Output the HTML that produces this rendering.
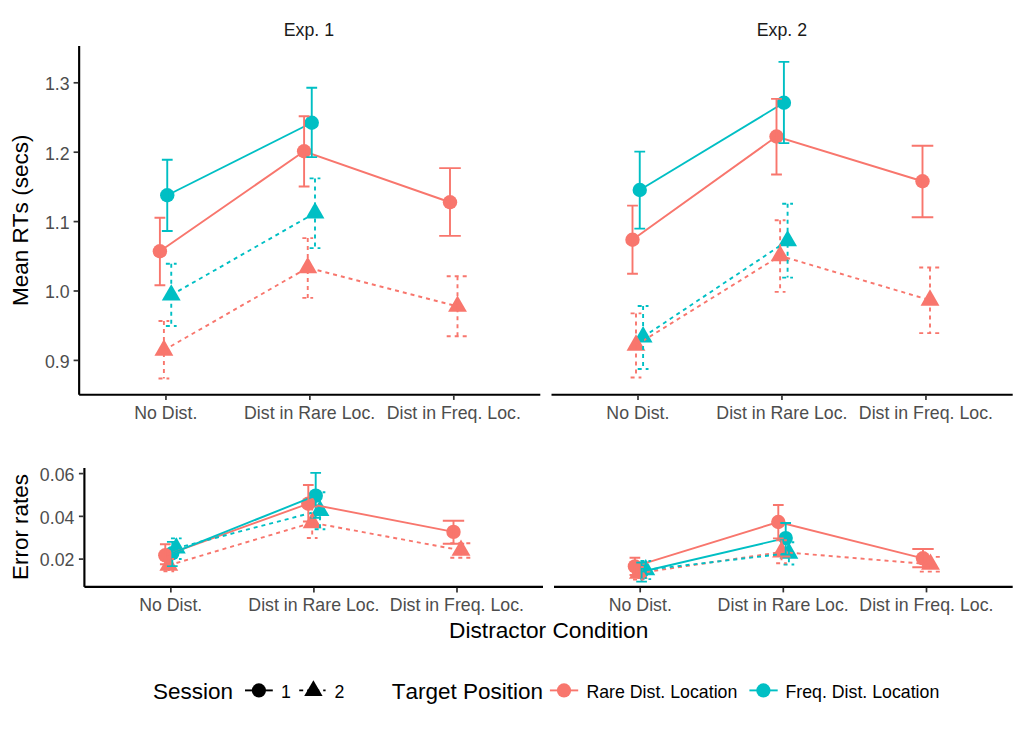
<!DOCTYPE html>
<html lang="en"><head><meta charset="utf-8"><title>Mean RTs and error rates</title>
<style>
html,body{margin:0;padding:0;background:#fff;}
body{width:1024px;height:731px;overflow:hidden;}
svg{display:block;}
text{font-family:"Liberation Sans",sans-serif;font-kerning:none;}
</style></head><body>
<svg width="1024" height="731" viewBox="0 0 1024 731">
<rect x="0" y="0" width="1024" height="731" fill="#ffffff"/>
<g fill="none" stroke="#000" stroke-width="2.15" stroke-linecap="butt">
<path d="M79.15 46.1V394.7"/>
<path d="M79.15 394.7H540.3"/>
<path d="M551.5 394.7H1012.7"/>
<path d="M84.4 468V586.9"/>
<path d="M84.4 586.9H543"/>
<path d="M554 586.9H1012.7"/>
</g>
<g fill="none" stroke="#333333" stroke-width="1.7">
<path d="M73.6 82.8H78.2"/>
<path d="M73.6 152.2H78.2"/>
<path d="M73.6 221.6H78.2"/>
<path d="M73.6 291H78.2"/>
<path d="M73.6 360.4H78.2"/>
<path d="M78.9 473.6H83.4"/>
<path d="M78.9 516.35H83.4"/>
<path d="M78.9 559.1H83.4"/>
<path d="M165.95 395.6V399.9"/>
<path d="M309.85 395.6V399.9"/>
<path d="M453.8 395.6V399.9"/>
<path d="M638 395.6V399.9"/>
<path d="M781.95 395.6V399.9"/>
<path d="M925.95 395.6V399.9"/>
<path d="M170.85 587.8V592.4"/>
<path d="M313.9 587.8V592.4"/>
<path d="M457 587.8V592.4"/>
<path d="M640.2 587.8V592.4"/>
<path d="M783.3 587.8V592.4"/>
<path d="M926.5 587.8V592.4"/>
</g>
<g fill="#4D4D4D" font-size="17.75">
<text transform="translate(69.6 90.1) scale(1 1.025)" font-size="17.75" text-anchor="end">1.3</text>
<text transform="translate(69.6 159.5) scale(1 1.025)" font-size="17.75" text-anchor="end">1.2</text>
<text transform="translate(69.6 228.9) scale(1 1.025)" font-size="17.75" text-anchor="end">1.1</text>
<text transform="translate(69.6 298.3) scale(1 1.025)" font-size="17.75" text-anchor="end">1.0</text>
<text transform="translate(69.6 367.7) scale(1 1.025)" font-size="17.75" text-anchor="end">0.9</text>
<text transform="translate(74.4 480.9) scale(1 1.025)" font-size="17.75" text-anchor="end">0.06</text>
<text transform="translate(74.4 523.65) scale(1 1.025)" font-size="17.75" text-anchor="end">0.04</text>
<text transform="translate(74.4 566.4) scale(1 1.025)" font-size="17.75" text-anchor="end">0.02</text>
<text transform="translate(165.8 418.7) scale(1 1.025)" font-size="17.75" text-anchor="middle">No Dist.</text>
<text transform="translate(309.6 418.7) scale(1 1.025)" font-size="17.75" text-anchor="middle">Dist in Rare Loc.</text>
<text transform="translate(453.8 418.7) scale(1 1.025)" font-size="17.75" text-anchor="middle">Dist in Freq. Loc.</text>
<text transform="translate(637.9 418.7) scale(1 1.025)" font-size="17.75" text-anchor="middle">No Dist.</text>
<text transform="translate(781.9 418.7) scale(1 1.025)" font-size="17.75" text-anchor="middle">Dist in Rare Loc.</text>
<text transform="translate(925.9 418.7) scale(1 1.025)" font-size="17.75" text-anchor="middle">Dist in Freq. Loc.</text>
<text transform="translate(170.7 611) scale(1 1.025)" font-size="17.75" text-anchor="middle">No Dist.</text>
<text transform="translate(313.9 611) scale(1 1.025)" font-size="17.75" text-anchor="middle">Dist in Rare Loc.</text>
<text transform="translate(456.9 611) scale(1 1.025)" font-size="17.75" text-anchor="middle">Dist in Freq. Loc.</text>
<text transform="translate(640.3 611) scale(1 1.025)" font-size="17.75" text-anchor="middle">No Dist.</text>
<text transform="translate(783.2 611) scale(1 1.025)" font-size="17.75" text-anchor="middle">Dist in Rare Loc.</text>
<text transform="translate(926.4 611) scale(1 1.025)" font-size="17.75" text-anchor="middle">Dist in Freq. Loc.</text>
</g>
<g fill="#1A1A1A" font-size="17.75" text-anchor="middle">
<text transform="translate(308.9 35.8) scale(1 1.025)" font-size="17.75" text-anchor="middle">Exp. 1</text>
<text transform="translate(781.9 35.8) scale(1 1.025)" font-size="17.75" text-anchor="middle">Exp. 2</text>
</g>
<g fill="#000" font-size="22.5" text-anchor="middle">
<text x="548.7" y="638" font-size="22.7">Distractor Condition</text>
<text transform="translate(27.6 220.3) rotate(-90)" font-size="22.55">Mean RTs (secs)</text>
<text transform="translate(27.5 527) rotate(-90)" font-size="22.4">Error rates</text>
</g>
<g id="TL">
<circle cx="167.25" cy="195.25" r="7.2" fill="#00BFC4"/>
<circle cx="311.75" cy="122.75" r="7.2" fill="#00BFC4"/>
<polygon points="171.25,284.2 180.69,300.55 161.81,300.55" fill="#00BFC4"/>
<polygon points="315,202.1 324.44,218.45 305.56,218.45" fill="#00BFC4"/>
<circle cx="159.9" cy="251.25" r="7.2" fill="#F8766D"/>
<circle cx="304.1" cy="151.25" r="7.2" fill="#F8766D"/>
<circle cx="450" cy="202.25" r="7.2" fill="#F8766D"/>
<polygon points="163.9,339.3 173.34,355.65 154.46,355.65" fill="#F8766D"/>
<polygon points="307.75,256.8 317.19,273.15 298.31,273.15" fill="#F8766D"/>
<polygon points="457.5,295.5 466.94,311.85 448.06,311.85" fill="#F8766D"/>
<path d="M159.9 251.25 L304.1 151.25 L450 202.25" fill="none" stroke="#F8766D" stroke-width="1.9"/>
<path d="M167.25 195.25 L311.75 122.75" fill="none" stroke="#00BFC4" stroke-width="1.9"/>
<path d="M163.9 350.2 L307.75 267.7 L457.5 306.4" fill="none" stroke="#F8766D" stroke-width="1.9" stroke-dasharray="4 4"/>
<path d="M171.25 295.1 L315 213" fill="none" stroke="#00BFC4" stroke-width="1.9" stroke-dasharray="4 4"/>
<path d="M161.85 159.75H172.65M167.25 159.75V231M161.85 231H172.65" fill="none" stroke="#00BFC4" stroke-width="1.9"/>
<path d="M306.35 87.75H317.15M311.75 87.75V157.1M306.35 157.1H317.15" fill="none" stroke="#00BFC4" stroke-width="1.9"/>
<path d="M165.85 263.75H176.65M171.25 263.75V326M165.85 326H176.65" fill="none" stroke="#00BFC4" stroke-width="1.9" stroke-dasharray="4 4"/>
<path d="M309.6 178.4H320.4M315 178.4V248.1M309.6 248.1H320.4" fill="none" stroke="#00BFC4" stroke-width="1.9" stroke-dasharray="4 4"/>
<path d="M154.5 217.7H165.3M159.9 217.7V285.2M154.5 285.2H165.3" fill="none" stroke="#F8766D" stroke-width="1.9"/>
<path d="M298.7 116.25H309.5M304.1 116.25V186.5M298.7 186.5H309.5" fill="none" stroke="#F8766D" stroke-width="1.9"/>
<path d="M439.2 168.1H460.8M450 168.1V235.9M439.2 235.9H460.8" fill="none" stroke="#F8766D" stroke-width="1.9"/>
<path d="M158.5 321H169.3M163.9 321V378.5M158.5 378.5H169.3" fill="none" stroke="#F8766D" stroke-width="1.9" stroke-dasharray="4 4"/>
<path d="M302.35 238.1H313.15M307.75 238.1V297.9M302.35 297.9H313.15" fill="none" stroke="#F8766D" stroke-width="1.9" stroke-dasharray="4 4"/>
<path d="M446.7 276.25H468.3M457.5 276.25V336.25M446.7 336.25H468.3" fill="none" stroke="#F8766D" stroke-width="1.9" stroke-dasharray="4 4"/>
</g>
<g id="TR">
<circle cx="639.75" cy="190" r="7.2" fill="#00BFC4"/>
<circle cx="783.9" cy="102.75" r="7.2" fill="#00BFC4"/>
<polygon points="643.1,326.1 652.54,342.45 633.66,342.45" fill="#00BFC4"/>
<polygon points="787.6,229.9 797.04,246.25 778.16,246.25" fill="#00BFC4"/>
<circle cx="632.5" cy="239.75" r="7.2" fill="#F8766D"/>
<circle cx="776.5" cy="136.5" r="7.2" fill="#F8766D"/>
<circle cx="922.5" cy="181.25" r="7.2" fill="#F8766D"/>
<polygon points="636,334.3 645.44,350.65 626.56,350.65" fill="#F8766D"/>
<polygon points="780.1,244.9 789.54,261.25 770.66,261.25" fill="#F8766D"/>
<polygon points="930,289.3 939.44,305.65 920.56,305.65" fill="#F8766D"/>
<path d="M632.5 239.75 L776.5 136.5 L922.5 181.25" fill="none" stroke="#F8766D" stroke-width="1.9"/>
<path d="M639.75 190 L783.9 102.75" fill="none" stroke="#00BFC4" stroke-width="1.9"/>
<path d="M636 345.2 L780.1 255.8 L930 300.2" fill="none" stroke="#F8766D" stroke-width="1.9" stroke-dasharray="4 4"/>
<path d="M643.1 337 L787.6 240.8" fill="none" stroke="#00BFC4" stroke-width="1.9" stroke-dasharray="4 4"/>
<path d="M634.35 151.6H645.15M639.75 151.6V228.6M634.35 228.6H645.15" fill="none" stroke="#00BFC4" stroke-width="1.9"/>
<path d="M778.5 61.9H789.3M783.9 61.9V143.1M778.5 143.1H789.3" fill="none" stroke="#00BFC4" stroke-width="1.9"/>
<path d="M637.7 306H648.5M643.1 306V369M637.7 369H648.5" fill="none" stroke="#00BFC4" stroke-width="1.9" stroke-dasharray="4 4"/>
<path d="M782.2 203.75H793M787.6 203.75V277.6M782.2 277.6H793" fill="none" stroke="#00BFC4" stroke-width="1.9" stroke-dasharray="4 4"/>
<path d="M627.1 205.6H637.9M632.5 205.6V273.75M627.1 273.75H637.9" fill="none" stroke="#F8766D" stroke-width="1.9"/>
<path d="M771.1 98.9H781.9M776.5 98.9V174.5M771.1 174.5H781.9" fill="none" stroke="#F8766D" stroke-width="1.9"/>
<path d="M911.7 145.75H933.3M922.5 145.75V217.25M911.7 217.25H933.3" fill="none" stroke="#F8766D" stroke-width="1.9"/>
<path d="M630.6 313.4H641.4M636 313.4V377.5M630.6 377.5H641.4" fill="none" stroke="#F8766D" stroke-width="1.9" stroke-dasharray="4 4"/>
<path d="M774.7 220.25H785.5M780.1 220.25V291.9M774.7 291.9H785.5" fill="none" stroke="#F8766D" stroke-width="1.9" stroke-dasharray="4 4"/>
<path d="M919.2 267.5H940.8M930 267.5V333.1M919.2 333.1H940.8" fill="none" stroke="#F8766D" stroke-width="1.9" stroke-dasharray="4 4"/>
</g>
<g id="BL">
<circle cx="172.3" cy="553.1" r="7.2" fill="#00BFC4"/>
<circle cx="315.7" cy="495.7" r="7.2" fill="#00BFC4"/>
<polygon points="176.3,537.2 185.74,553.55 166.86,553.55" fill="#00BFC4"/>
<polygon points="320,499.7 329.44,516.05 310.56,516.05" fill="#00BFC4"/>
<circle cx="165.3" cy="555.3" r="7.2" fill="#F8766D"/>
<circle cx="308.3" cy="503.7" r="7.2" fill="#F8766D"/>
<circle cx="453.5" cy="531.9" r="7.2" fill="#F8766D"/>
<polygon points="168.8,554.4 178.24,570.75 159.36,570.75" fill="#F8766D"/>
<polygon points="312.2,511.8 321.64,528.15 302.76,528.15" fill="#F8766D"/>
<polygon points="461,539.4 470.44,555.75 451.56,555.75" fill="#F8766D"/>
<path d="M165.3 555.3 L308.3 503.7 L453.5 531.9" fill="none" stroke="#F8766D" stroke-width="1.9"/>
<path d="M172.3 553.1 L315.7 495.7" fill="none" stroke="#00BFC4" stroke-width="1.9"/>
<path d="M168.8 565.3 L312.2 522.7 L461 550.3" fill="none" stroke="#F8766D" stroke-width="1.9" stroke-dasharray="4 4"/>
<path d="M176.3 548.1 L320 510.6" fill="none" stroke="#00BFC4" stroke-width="1.9" stroke-dasharray="4 4"/>
<path d="M166.95 541.9H177.65M172.3 541.9V566.1M166.95 566.1H177.65" fill="none" stroke="#00BFC4" stroke-width="1.9"/>
<path d="M310.35 472.9H321.05M315.7 472.9V517.8M310.35 517.8H321.05" fill="none" stroke="#00BFC4" stroke-width="1.9"/>
<path d="M170.95 538.4H181.65M176.3 538.4V559M170.95 559H181.65" fill="none" stroke="#00BFC4" stroke-width="1.9" stroke-dasharray="4 4"/>
<path d="M314.65 492.2H325.35M320 492.2V529.2M314.65 529.2H325.35" fill="none" stroke="#00BFC4" stroke-width="1.9" stroke-dasharray="4 4"/>
<path d="M159.95 544.2H170.65M165.3 544.2V564.3M159.95 564.3H170.65" fill="none" stroke="#F8766D" stroke-width="1.9"/>
<path d="M302.95 485H313.65M308.3 485V521.5M302.95 521.5H313.65" fill="none" stroke="#F8766D" stroke-width="1.9"/>
<path d="M442.8 520.8H464.2M453.5 520.8V543.8M442.8 543.8H464.2" fill="none" stroke="#F8766D" stroke-width="1.9"/>
<path d="M163.45 559H174.15M168.8 559V571.2M163.45 571.2H174.15" fill="none" stroke="#F8766D" stroke-width="1.9" stroke-dasharray="4 4"/>
<path d="M306.85 506.6H317.55M312.2 506.6V538M306.85 538H317.55" fill="none" stroke="#F8766D" stroke-width="1.9" stroke-dasharray="4 4"/>
<path d="M450.3 543.2H471.7M461 543.2V557.8M450.3 557.8H471.7" fill="none" stroke="#F8766D" stroke-width="1.9" stroke-dasharray="4 4"/>
</g>
<g id="BR">
<circle cx="641.6" cy="571.8" r="7.2" fill="#00BFC4"/>
<circle cx="785.7" cy="538.1" r="7.2" fill="#00BFC4"/>
<polygon points="645.8,559 655.24,575.35 636.36,575.35" fill="#00BFC4"/>
<polygon points="788.9,542.3 798.34,558.65 779.46,558.65" fill="#00BFC4"/>
<circle cx="634.9" cy="566.4" r="7.2" fill="#F8766D"/>
<circle cx="778.3" cy="522" r="7.2" fill="#F8766D"/>
<circle cx="923" cy="558.3" r="7.2" fill="#F8766D"/>
<polygon points="638.4,562.3 647.84,578.65 628.96,578.65" fill="#F8766D"/>
<polygon points="781.5,541.1 790.94,557.45 772.06,557.45" fill="#F8766D"/>
<polygon points="930.5,553.4 939.94,569.75 921.06,569.75" fill="#F8766D"/>
<path d="M634.9 566.4 L778.3 522 L923 558.3" fill="none" stroke="#F8766D" stroke-width="1.9"/>
<path d="M641.6 571.8 L785.7 538.1" fill="none" stroke="#00BFC4" stroke-width="1.9"/>
<path d="M638.4 573.2 L781.5 552 L930.5 564.3" fill="none" stroke="#F8766D" stroke-width="1.9" stroke-dasharray="4 4"/>
<path d="M645.8 569.9 L788.9 553.2" fill="none" stroke="#00BFC4" stroke-width="1.9" stroke-dasharray="4 4"/>
<path d="M636.25 562.6H646.95M641.6 562.6V581.6M636.25 581.6H646.95" fill="none" stroke="#00BFC4" stroke-width="1.9"/>
<path d="M780.35 523H791.05M785.7 523V554.6M780.35 554.6H791.05" fill="none" stroke="#00BFC4" stroke-width="1.9"/>
<path d="M640.45 561H651.15M645.8 561V579.1M640.45 579.1H651.15" fill="none" stroke="#00BFC4" stroke-width="1.9" stroke-dasharray="4 4"/>
<path d="M783.55 542.3H794.25M788.9 542.3V564.5M783.55 564.5H794.25" fill="none" stroke="#00BFC4" stroke-width="1.9" stroke-dasharray="4 4"/>
<path d="M629.55 557.7H640.25M634.9 557.7V575M629.55 575H640.25" fill="none" stroke="#F8766D" stroke-width="1.9"/>
<path d="M772.95 505H783.65M778.3 505V538.4M772.95 538.4H783.65" fill="none" stroke="#F8766D" stroke-width="1.9"/>
<path d="M912.3 549H933.7M923 549V567.3M912.3 567.3H933.7" fill="none" stroke="#F8766D" stroke-width="1.9"/>
<path d="M633.05 567H643.75M638.4 567V579.5M633.05 579.5H643.75" fill="none" stroke="#F8766D" stroke-width="1.9" stroke-dasharray="4 4"/>
<path d="M776.15 540.2H786.85M781.5 540.2V563.2M776.15 563.2H786.85" fill="none" stroke="#F8766D" stroke-width="1.9" stroke-dasharray="4 4"/>
<path d="M919.8 556.9H941.2M930.5 556.9V571.6M919.8 571.6H941.2" fill="none" stroke="#F8766D" stroke-width="1.9" stroke-dasharray="4 4"/>
</g>
<g id="legend">
<text x="153" y="698.6" font-size="22.5" fill="#000">Session</text>
<path d="M245 690.4H272.8" stroke="#000" stroke-width="1.9" fill="none"/>
<circle cx="258.9" cy="690.4" r="7.1" fill="#000"/>
<text transform="translate(281 698.2) scale(1 1.025)" font-size="17.75" fill="#000">1</text>
<path d="M299.2 690.4H325.6" stroke="#000" stroke-width="1.9" fill="none" stroke-dasharray="4 4"/>
<polygon points="313.4,680.2 322.58,696.1 304.22,696.1" fill="#000"/>
<text transform="translate(334.4 698.2) scale(1 1.025)" font-size="17.75" fill="#000">2</text>
<text x="391.7" y="698.6" font-size="22.5" fill="#000">Target Position</text>
<path d="M549.9 690.4H578.2" stroke="#F8766D" stroke-width="1.9" fill="none"/>
<circle cx="564" cy="690.4" r="7.1" fill="#F8766D"/>
<text transform="translate(586.4 698.2) scale(1 1.025)" font-size="17.75" fill="#000">Rare Dist. Location</text>
<path d="M749.4 690.4H777.7" stroke="#00BFC4" stroke-width="1.9" fill="none"/>
<circle cx="763.4" cy="690.4" r="7.1" fill="#00BFC4"/>
<text transform="translate(785.4 698.2) scale(1 1.025)" font-size="17.75" fill="#000">Freq. Dist. Location</text>
</g>
</svg>
</body></html>
